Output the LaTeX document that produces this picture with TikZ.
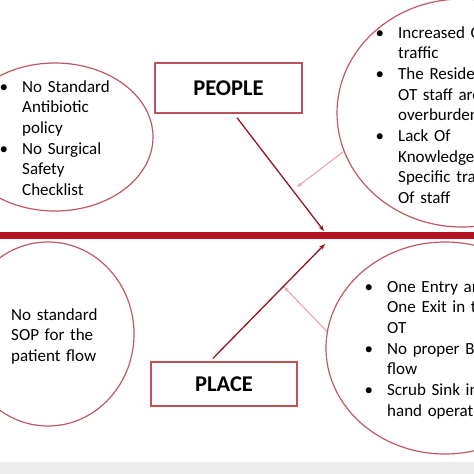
\documentclass[tikz,border=0pt]{standalone}
\usepackage{fontspec}
\setmainfont{Carlito}
\usetikzlibrary{shapes.geometric,arrows.meta,positioning,calc}
\definecolor{spinered}{RGB}{178,18,34}
\definecolor{rimred}{RGB}{192,88,100}
\definecolor{boxred}{RGB}{190,80,90}
\definecolor{arrowred}{RGB}{150,22,32}
\definecolor{softpink}{RGB}{228,165,172}
\definecolor{stripgray}{RGB}{236,236,236}
\newcommand{\itm}{\leavevmode\llap{\textbullet\hspace{14pt}}}

\begin{document}
\begin{tikzpicture}[
    x=1pt, y=-1pt,
    cause/.style={draw=boxred, line width=1.4pt, minimum width=147pt,
                  minimum height=50pt, inner sep=0pt,
                  font=\fontsize{22.5}{27}\selectfont\bfseries},
    bubble/.style={ellipse, draw=rimred, line width=1.2pt, inner sep=0pt},
    list/.style={anchor=base west, inner sep=0pt, text width=200pt,
                 align=left, font=\fontsize{17}{20.7}\selectfont},
    spine/.style={spinered, line width=7pt},
    arr/.style={-{Stealth[length=6pt,width=4.5pt]}, arrowred, line width=1.3pt},
    hint/.style={-{Stealth[length=5pt,width=4pt]}, softpink, line width=1.1pt}
]
    \useasboundingbox (0,0) rectangle (474,474);
    \clip (0,0) rectangle (474,474);
    \fill[stripgray] (0,462) rectangle (474,474);

    % bubbles
    \node[bubble, minimum width=196pt, minimum height=148pt] (policybub) at (55,137) {};
    \node[bubble, minimum width=250pt, minimum height=228pt] (peoplebub) at (462,113) {};
    \node[bubble, minimum width=172pt, minimum height=184pt] (flowbub) at (48,334) {};
    \node[bubble, minimum width=238pt, minimum height=212pt] (placebub) at (445,348) {};

    % spine
    \coordinate (spineL) at (0,235.5);
    \coordinate (spineR) at (474,235.5);
    \draw[spine] (spineL) -- (spineR);

    \node[cause] (people) at (228.5,88) {PEOPLE};
    \node[cause, minimum width=146pt, minimum height=44pt] (place) at (224,384) {PLACE};

    \coordinate (pplhead) at (324,231);
    \coordinate (plchead) at (325,244);
    \coordinate (pplhint) at (297,187);
    \coordinate (plchint) at (284,287);

    \draw[arr] ([xshift=8.5pt,yshift=-4pt]people.south) -- (pplhead);
    \draw[arr] ([xshift=-11pt,yshift=3pt]place.north) -- (plchead);
    \draw[hint] (peoplebub.198) -- (pplhint);
    \draw[hint] (placebub.172) -- (plchint);

    % texts
    \node[list] (policytxt) at (22,92) {\itm No Standard\\ Antibiotic\\ policy\\
        \itm No Surgical\\ Safety\\ Checklist};
    \node[list] (peopletxt) at (398,38) {\itm Increased O\\ traffic\\
        \itm The Reside\\ OT staff are\\ overburden\\
        \itm Lack Of\\ Knowledge\\ Specific tra\\ Of staff};
    \node[list] (flowtxt) at (11,320) {No standard\\ SOP for the\\ patient flow};
    \node[list] (placetxt) at (387,292) {\itm One Entry an\\ One Exit in t\\ OT\\
        \itm No proper B\\ flow\\ \itm Scrub Sink in\\ hand operat};
\end{tikzpicture}
\end{document}
